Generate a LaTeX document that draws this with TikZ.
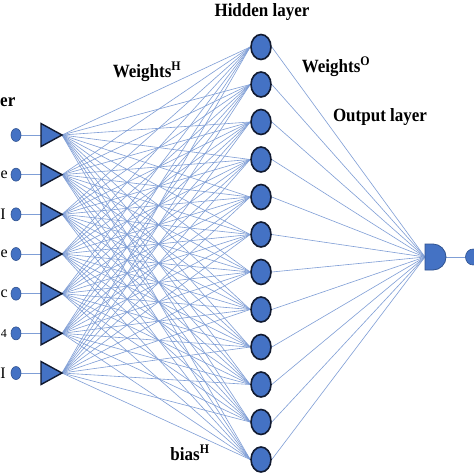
\documentclass[tikz,border=0pt]{standalone}
\usepackage{fontspec}
\setmainfont{Liberation Serif}
\usetikzlibrary{shapes.geometric,backgrounds}
\definecolor{nblue}{HTML}{4472C4}
\definecolor{nedge}{HTML}{2F528F}
\definecolor{wline}{HTML}{7F9ED6}
\definecolor{dark}{HTML}{111A30}
\begin{document}
\begin{tikzpicture}[x=1pt,y=-1pt,
  inp/.style={ellipse, fill=nblue, draw=nedge, line width=0.6pt, minimum width=10pt, minimum height=13pt, inner sep=0pt},
  hid/.style={ellipse, fill=nblue, draw=dark, line width=1.6pt, minimum width=20pt, minimum height=25pt, inner sep=0pt},
  outn/.style={ellipse, fill=nblue, draw=nedge, line width=0.6pt, minimum width=15pt, minimum height=16pt, inner sep=0pt},
  tri/.style={fill=nblue, draw=dark, line width=1.4pt, line join=miter},
  gate/.style={fill=nblue, draw=nedge, line width=0.8pt},
  wire/.style={wline, line width=0.6pt},
  lbl/.style={font=\bfseries\fontsize{17}{20}\selectfont, inner sep=0pt, yscale=1.1},
  side/.style={font=\fontsize{16}{18}\selectfont, inner sep=0pt, anchor=east}]
\useasboundingbox (0,0) rectangle (474,474);
% hidden nodes
\foreach \k in {1,...,12} {
  \pgfmathsetmacro\yy{47+37.5*(\k-1)}
  \node[hid] (h\k) at (261,\yy) {};
}
% input nodes and triangles
\foreach \i in {1,...,7} {
  \pgfmathsetmacro\yy{135+39.67*(\i-1)}
  \node[inp] (in\i) at (16,\yy) {};
  \coordinate (ta\i) at (41,\yy);
  \coordinate (tp\i) at (62,\yy);
  \draw[tri] (41,\yy-11.5) -- (62,\yy) -- (41,\yy+11.5) -- cycle;
}
% output gate
\coordinate (gl) at (425,257);
\coordinate (gr) at (446,257);
\draw[gate] (425,244) -- (433,244) arc[start angle=90, end angle=-90, radius=13pt] -- (425,270) -- cycle;
\node[outn] (out) at (473,257) {};
\begin{scope}[on background layer]
  \fill[white] (0,0) rectangle (474,474);
  \foreach \i in {1,...,7} {
    \draw[wire] (in\i) -- (ta\i);
    \foreach \k in {1,...,12} { \draw[wire] (tp\i) -- (h\k.west); }
  }
  \foreach \k in {1,...,12} { \draw[wire] (h\k.east) -- (gl); }
  \draw[wire] (gr) -- (out);
\end{scope}
% labels
\node[lbl] (thid) at (262,12) {Hidden layer};
\node[lbl] (twh) at (147,72) {Weights\textsuperscript{H}};
\node[lbl] (two) at (336,67) {Weights\textsuperscript{O}};
\node[lbl] (tout) at (380,117) {Output layer};
\node[lbl] (tbias) at (190,453) {bias\textsuperscript{H}};
\node[lbl, anchor=east] (tin) at (15.5,102) {er};
\node[side] (s2) at (8,175) {e};
\node[side] (s3) at (6,214) {I};
\node[side] (s4) at (8,254) {e};
\node[side] (s5) at (8,294) {c};
\node[side, font=\fontsize{12}{14}\selectfont] (s6) at (7,334) {4};
\node[side] (s7) at (6,373) {I};
\end{tikzpicture}
\end{document}
